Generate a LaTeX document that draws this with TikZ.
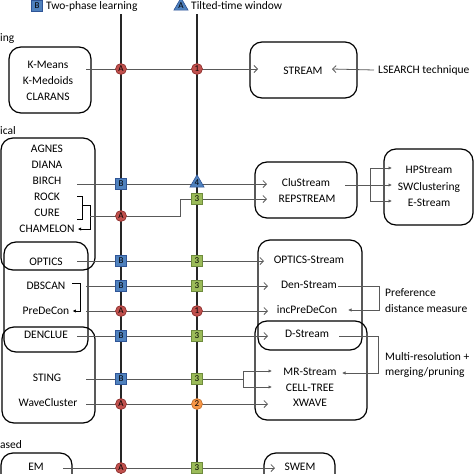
\documentclass[tikz,border=0pt]{standalone}
\usepackage{fontspec}
\setmainfont{Carlito}
\usetikzlibrary{arrows.meta,shapes.geometric}
\definecolor{mred}{HTML}{C0504D}
\definecolor{mredd}{HTML}{8B2E2C}
\definecolor{mblue}{HTML}{4F81BD}
\definecolor{mblued}{HTML}{2F5597}
\definecolor{mgreen}{HTML}{9BBB59}
\definecolor{mgreend}{HTML}{6E8B3D}
\definecolor{morange}{HTML}{F79646}
\definecolor{moranged}{HTML}{C0702F}
\begin{document}
\begin{tikzpicture}[x=1pt,y=-1pt,
  lbl/.style={font=\fontsize{11.5}{13}\selectfont, inner sep=0pt},
  grp/.style={draw=black, line width=1.2pt, rounded corners=12pt},
  vline/.style={draw=black!85, line width=1.3pt},
  rowline/.style={draw=black!65, line width=0.8pt},
  openarr/.style={-{Straight Barb[length=3.5pt,width=7pt]}},
  fillarr/.style={-{Latex[length=3.5pt,width=3.5pt]}},
  mk/.style={font=\fontsize{9}{9}\selectfont, text=black, inner sep=0pt, minimum size=11pt, line width=0.6pt},
  mA/.style={mk, circle, fill=mred, draw=mredd},
  mB/.style={mk, rectangle, fill=mblue, draw=mblued},
  mG/.style={mk, rectangle, fill=mgreen, draw=mgreend},
  mO/.style={mk, circle, fill=morange, draw=moranged},
  mT/.style={mk, regular polygon, regular polygon sides=3, minimum size=16pt, fill=mblue, draw=mblued}
]
\useasboundingbox (0,0) rectangle (474,474);

% legend
\node[mB] (legB) at (37,6) {B};
\node[lbl, anchor=west] (legBtxt) at (46,6) {Two-phase learning};
\node[mT, minimum size=14pt] (legT) at (181,6) {\raisebox{-2pt}{A}};
\node[lbl, anchor=west] (legTtxt) at (191,6) {Tilted-time window};

% vertical lines
\coordinate (v1t) at (121,14); \coordinate (v1b) at (121,474);
\coordinate (v2t) at (197,14); \coordinate (v2b) at (197,474);
\draw[vline] (v1t) -- (v1b);
\draw[vline] (v2t) -- (v2b);

% category labels (cut off)
\node[lbl, anchor=west] (catP) at (0,39) {ing};
\node[lbl, anchor=west] (catH) at (0,131) {ical};
\node[lbl, anchor=west] (catM) at (0,445) {ased};

% left group boxes
\draw[grp] (9,47) rectangle (91,113);
\draw[grp] (1,138) rectangle (95,270);
\draw[grp] (4,242) rectangle (88,352);
\draw[grp] (2,327) rectangle (95,423);
\draw[grp] (1,453) rectangle (72,495);

% left texts
\node[lbl] (kmeans) at (48,65) {K-Means};
\node[lbl] (kmedoids) at (48,81) {K-Medoids};
\node[lbl] (clarans) at (48,97) {CLARANS};
\node[lbl] (agnes) at (47,149) {AGNES};
\node[lbl] (diana) at (47,165) {DIANA};
\node[lbl] (birch) at (47,181) {BIRCH};
\node[lbl] (rock) at (47,197) {ROCK};
\node[lbl] (cure) at (47,213) {CURE};
\node[lbl] (chamelon) at (47,229) {CHAMELON};
\node[lbl] (optics) at (46,262) {OPTICS};
\node[lbl] (dbscan) at (46,286) {DBSCAN};
\node[lbl] (predecon) at (46,311) {PreDeCon};
\node[lbl] (denclue) at (46,335) {DENCLUE};
\node[lbl] (sting) at (47,378) {STING};
\node[lbl] (wavecluster) at (48,403) {WaveCluster};
\node[lbl] (em) at (36,467) {EM};

% left connectors
\coordinate (brT) at (77,196); \coordinate (brB) at (77,219);
\draw[black, line width=0.8pt] (brT) -- (82,196) -- (82,219) -- (brB);
\coordinate (brM) at (82,205);
\draw[black, line width=0.8pt, fillarr] (brM) -- (90,205) -- (90,229) -- ([xshift=3pt]chamelon.east);
\coordinate (dbS) at (72,283);
\draw[black, line width=0.8pt, fillarr] (dbS) -- (80,283) -- (80,311) -- ([xshift=3pt]predecon.east);

% right boxes
\draw[grp] (250,42) rectangle (357,98);
\draw[grp] (255,162) rectangle (357,218);
\draw[grp] (384,149) rectangle (473,225);
\draw[grp] (258,240) rectangle (362,350);
\draw[grp] (255,321) rectangle (367,420);
\draw[grp] (264,453) rectangle (335,495);

% right texts
\node[lbl] (stream) at (303,71) {STREAM};
\node[lbl, anchor=west] (lsearch) at (378,70) {LSEARCH technique};
\node[lbl] (clustream) at (306,183) {CluStream};
\node[lbl] (repstream) at (307,199) {REPSTREAM};
\node[lbl] (hpstream) at (429,170) {HPStream};
\node[lbl] (swclust) at (429,187) {SWClustering};
\node[lbl] (estream) at (429,203) {E-Stream};
\node[lbl] (opticsstream) at (309,260) {OPTICS-Stream};
\node[lbl] (denstream) at (309,285) {Den-Stream};
\node[lbl] (incpredecon) at (307,310) {incPreDeCon};
\node[lbl] (dstream) at (307,334) {D-Stream};
\node[lbl] (mrstream) at (310,372) {MR-Stream};
\node[lbl] (celltree) at (310,388) {CELL-TREE};
\node[lbl] (xwave) at (310,403) {XWAVE};
\node[lbl] (swem) at (300,467) {SWEM};
\node[lbl, anchor=west] (pref1) at (385,293) {Preference};
\node[lbl, anchor=west] (pref2) at (385,309) {distance measure};
\node[lbl, anchor=west] (multi1) at (385,357) {Multi-resolution +};
\node[lbl, anchor=west] (multi2) at (385,372) {merging/pruning};

% row lines
\coordinate (r1s) at (86,69);   \coordinate (r1e) at (258,69);
\coordinate (r2s) at (77,184);  \coordinate (r2e) at (267,184);
\coordinate (r3s) at (90,216);  \coordinate (r3e) at (267,199);
\coordinate (r4s) at (77,261);  \coordinate (r4e) at (264,261);
\coordinate (r5s) at (86,286);  \coordinate (r5e) at (268,286);
\coordinate (r6s) at (86,311);  \coordinate (r6e) at (268,311);
\coordinate (r7s) at (77,336);  \coordinate (r7e) at (268,336);
\coordinate (r8s) at (86,379);  \coordinate (r8f) at (243,379);
\coordinate (r8a) at (272,371); \coordinate (r8b) at (272,387);
\coordinate (r9s) at (86,404);  \coordinate (r9e) at (268,404);
\coordinate (r10s) at (63,468); \coordinate (r10e) at (275,468);

\draw[rowline, openarr] (r1s) -- (r1e);
\draw[rowline, openarr] ([xshift=-4pt]lsearch.west) -- (332,69);
\draw[rowline, openarr] (r2s) -- (r2e);
\draw[rowline, openarr] (r3s) -- (180,216) -- (180,199) -- (r3e);
\draw[rowline, openarr] (r4s) -- (r4e);
\draw[rowline, openarr] (r5s) -- (r5e);
\draw[rowline, openarr] (r6s) -- (r6e);
\draw[rowline, openarr] (r7s) -- (r7e);
\draw[rowline] (r8s) -- (r8f);
\draw[rowline, fillarr] (r8f) |- (r8a);
\draw[rowline, fillarr] (r8f) |- (r8b);
\draw[rowline, openarr] (r9s) -- (r9e);
\draw[rowline, openarr] (r10s) -- (r10e);

% right connectors
\coordinate (cs) at (345,185); \coordinate (cf) at (370,185);
\draw[rowline, fillarr] (cs) -- (392,185);
\draw[rowline, fillarr] (cf) |- (392,168);
\draw[rowline, fillarr] (cf) |- (392,201);
\draw[rowline, fillarr] (338,286) -- (379,286) -- (379,310) -- (348,310);
\draw[rowline, fillarr] (339,336) -- (378,336) -- (378,373) -- (342,373);

% markers
\node[mA] (m1a) at (121,69) {A};
\node[mA] (m1b) at (197,69) {1};
\node[mB] (m2a) at (121,184) {B};
\node[mT] (m2b) at (197,183) {\raisebox{-2pt}{4}};
\node[mA] (m3a) at (121,216) {A};
\node[mG] (m3b) at (197,199) {3};
\node[mB] (m4a) at (121,261) {B};
\node[mG] (m4b) at (197,261) {3};
\node[mB] (m5a) at (121,286) {B};
\node[mG] (m5b) at (197,286) {3};
\node[mA] (m6a) at (121,311) {A};
\node[mA] (m6b) at (197,311) {1};
\node[mB] (m7a) at (121,336) {B};
\node[mG] (m7b) at (197,336) {3};
\node[mB] (m8a) at (121,379) {B};
\node[mG] (m8b) at (197,379) {3};
\node[mA] (m9a) at (121,404) {A};
\node[mO] (m9b) at (197,404) {2};
\node[mA] (m10a) at (121,468) {A};
\node[mG] (m10b) at (197,468) {3};
\end{tikzpicture}
\end{document}
